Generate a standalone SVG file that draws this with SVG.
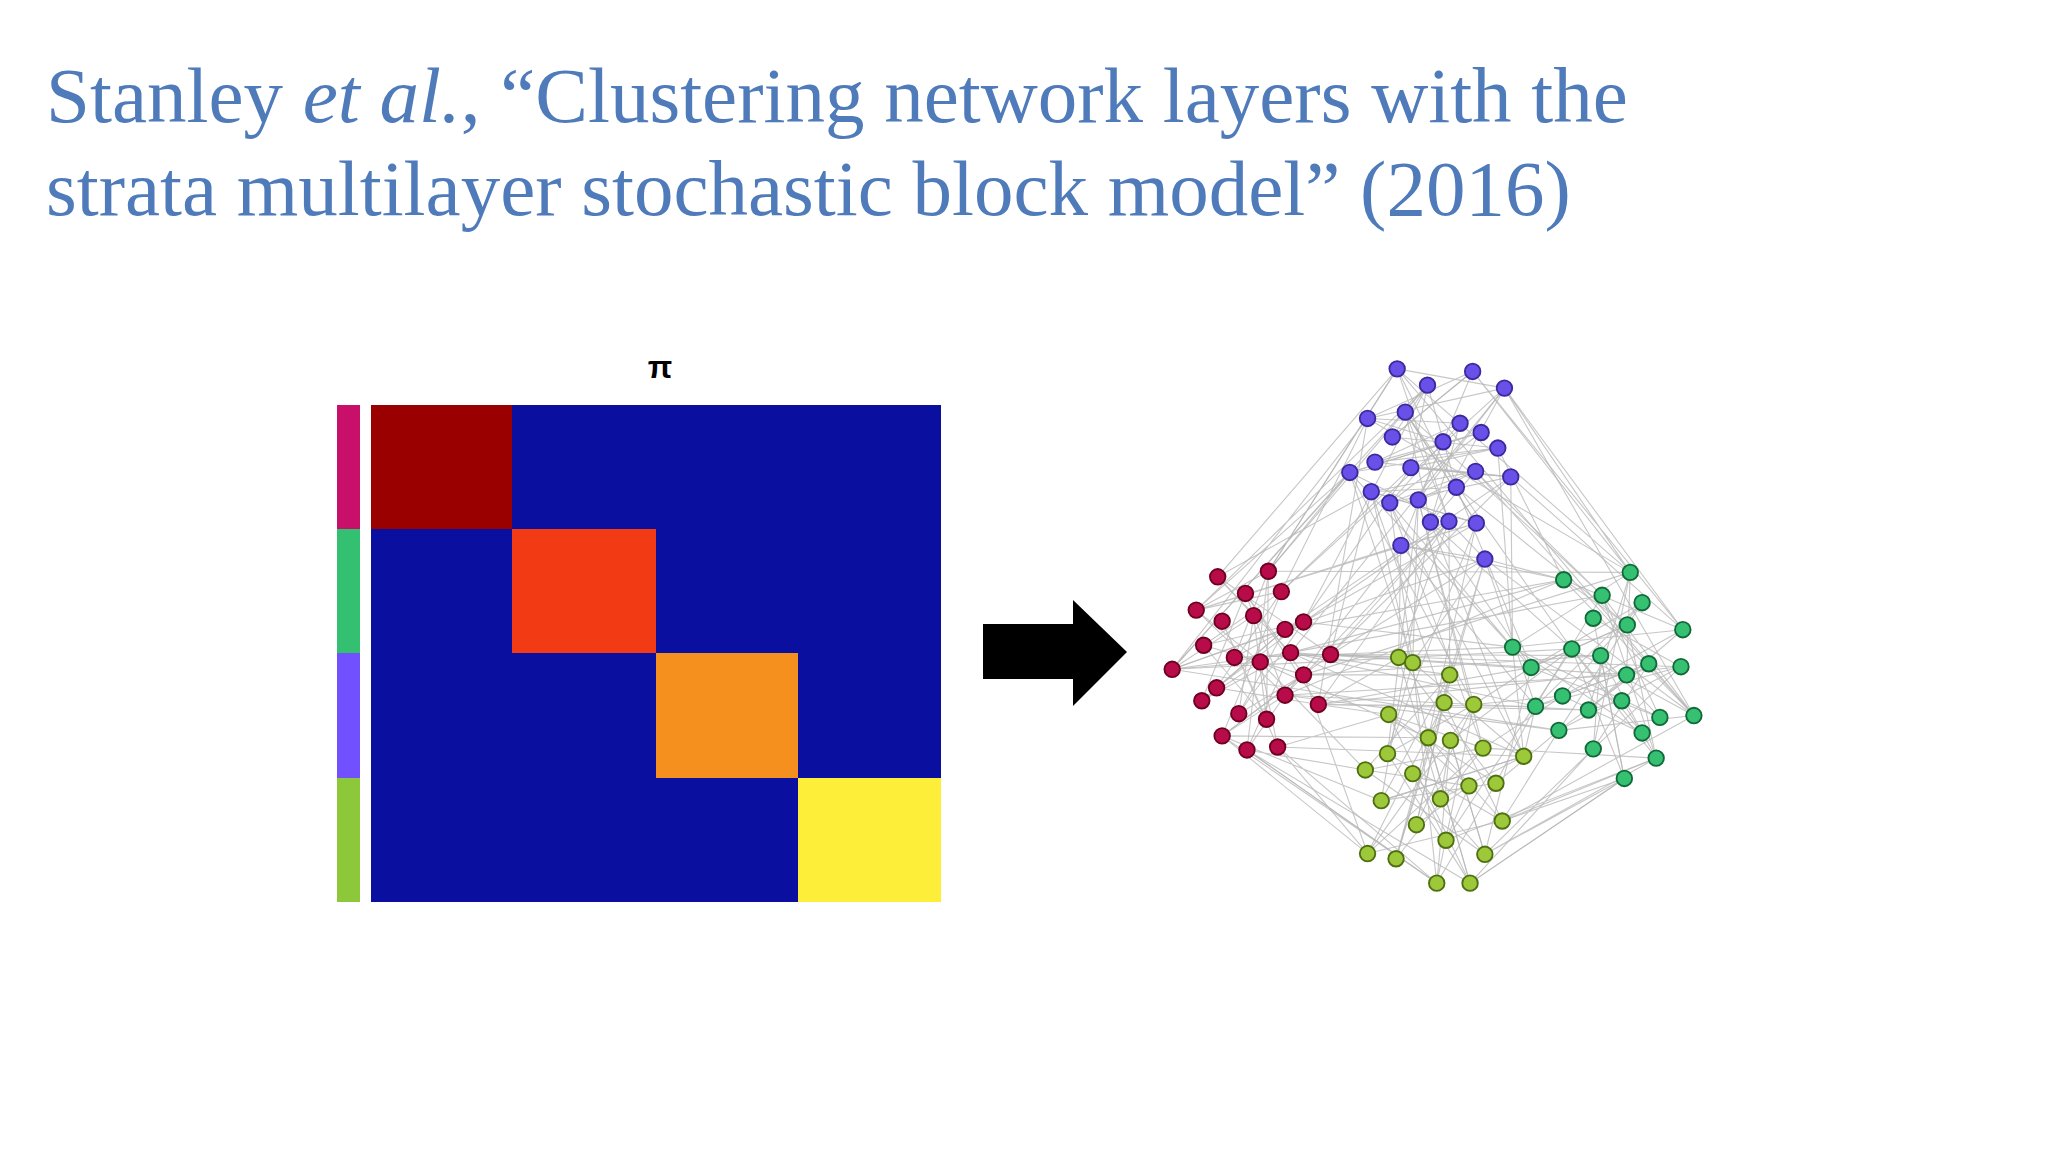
<svg xmlns="http://www.w3.org/2000/svg" width="2048" height="1152" viewBox="0 0 2048 1152">
<style>
.t{font-family:"Liberation Serif","Times New Roman",serif;font-size:79px;fill:#4f7bbb}
.e{fill:none;stroke:#b4b4b4;stroke-width:3;stroke-opacity:0.75;stroke-linejoin:round}
.p circle{fill:#6a50e8;stroke:#3a2aa0;stroke-width:5}
.r circle{fill:#b80c4a;stroke:#700020;stroke-width:5}
.y circle{fill:#9cc83a;stroke:#4e7010;stroke-width:5}
.g circle{fill:#36c072;stroke:#106a38;stroke-width:5}
</style>
<rect width="2048" height="1152" fill="#ffffff"/>
<g id="title">
<text class="t" x="46" y="122">Stanley <tspan font-style="italic">et al.</tspan>, “Clustering network layers with the</text>
<text class="t" x="46" y="215">strata multilayer stochastic block model” (2016)</text>
</g>
<g id="matrix">
<text x="660" y="378" font-family="Liberation Sans,Arial,sans-serif" font-weight="bold" font-size="32" text-anchor="middle" fill="#000">π</text>
<rect x="337" y="405" width="23" height="124" fill="#c8106a"/>
<rect x="337" y="529" width="23" height="124" fill="#33c070"/>
<rect x="337" y="653" width="23" height="125" fill="#7050ff"/>
<rect x="337" y="778" width="23" height="124" fill="#8cc83a"/>
<rect x="371" y="405" width="570" height="497" fill="#0a0fa0"/>
<rect x="371" y="405" width="141" height="124" fill="#9a0000"/>
<rect x="512" y="529" width="144" height="124" fill="#f23a14"/>
<rect x="656" y="653" width="142" height="125" fill="#f5901e"/>
<rect x="798" y="778" width="143" height="124" fill="#fdee3a"/>
</g>
<g id="arrow">
<polygon points="983,624 1073,624 1073,600 1127,652 1073,706 1073,679 983,679" fill="#000"/>
</g>
<g id="network" transform="translate(1150,340) scale(0.37)">
<g id="connectors">
<polyline class="e" points="668,78 958,130 588,212 872,85 655,262 940,292 540,358 895,250 608,330 975,370 705,345 750,122 828,398 598,410 882,495 690,195 758,492 838,225 648,440 880,355 725,432 792,275 678,555 905,592 808,490 668,78"/>
<polyline class="e" points="750,122 655,262 872,85 792,275 588,212 838,225 608,330 940,292 705,345 975,370 648,440 895,250 540,358 808,490 690,195 882,495 598,410 880,355 758,492 958,130 725,432 828,398 668,78"/>
<polyline class="e" points="320,625 125,730 355,680 145,825 415,762 60,890 380,845 183,640 488,850 228,858 365,782 180,940 455,985 258,685 140,975 298,870 345,1100 195,760 315,1025 280,745 240,1010 415,905 195,1070 365,960 262,1108 320,625"/>
<polyline class="e" points="183,640 280,745 60,890 298,870 125,730 365,960 258,685 415,905 145,825 315,1025 320,625 228,858 488,850 195,1070 355,680 180,940 415,762 240,1010 365,782 140,975 380,845 262,1108"/>
<polyline class="e" points="672,858 935,1198 645,1012 900,1103 582,1162 810,905 625,1245 1010,1125 710,872 775,1468 875,985 588,1388 952,1300 642,1118 865,1468 752,1075 665,1402 795,980 720,1310 862,1205 800,1352 710,1172 905,1390 812,1082 785,1240 672,858"/>
<polyline class="e" points="710,872 642,1118 875,985 720,1310 810,905 665,1402 900,1103 588,1388 795,980 952,1300 752,1075 865,1468 645,1012 862,1205 582,1162 905,1390 812,1082 775,1468 935,1198 625,1245 1010,1125 785,1240"/>
<polyline class="e" points="1298,628 980,830 1440,783 1118,648 1470,1015 1222,690 1042,990 1330,710 1105,1055 1435,883 1198,752 1282,1185 1140,835 1368,1130 1290,770 1030,885 1378,1020 1218,853 1198,1105 1348,875 1115,962 1330,1062 1275,975 1185,1000 1288,905 1298,628"/>
<polyline class="e" points="1118,648 1290,770 1030,885 1330,710 1115,962 1440,783 1185,1000 1298,628 1198,1105 1435,883 1042,990 1348,875 1105,1055 1470,1015 1140,835 1330,1062 980,830 1378,1020 1222,690 1368,1130 1218,853 1282,1185"/>
<polyline class="e" points="540,358 320,625 668,78 183,640 598,410 488,850 905,592 60,890 750,122 415,762 882,495 125,730 678,555 365,960 808,490 455,985 588,212 355,680 958,130 380,845"/>
<polyline class="e" points="958,130 1298,628 872,85 1440,783 975,370 980,830 940,292 1118,648 905,592 1470,1015 880,355 1222,690 690,195 1140,835 758,492 1030,885 828,398 1290,770"/>
<polyline class="e" points="488,850 672,858 455,985 645,1012 345,1100 588,1388 415,905 810,905 380,845 1010,1125 345,1100 775,1468 262,1108 582,1162 298,870 752,1075 195,1070 625,1245"/>
<polyline class="e" points="980,830 1010,1125 1042,990 935,1198 1105,1055 952,1300 1282,1185 865,1468 1198,1105 905,1390 1030,885 875,985 1115,962 900,1103 1368,1130 800,1352 1140,835 812,1082"/>
<polyline class="e" points="678,555 672,858 808,490 810,905 905,592 795,980 598,410 752,1075 882,495 642,1118 725,432 875,985 540,358 710,872 648,440 1010,1125 758,492 625,1245"/>
<polyline class="e" points="415,762 980,830 488,850 1030,885 455,985 1042,990 380,845 1118,648 365,960 1105,1055 60,890 1140,835"/>
<polyline class="e" points="668,78 320,625 750,122 125,730 540,358 60,890 588,212 1298,628 668,78 1470,1015 958,130 1440,783"/>
<polyline class="e" points="588,1388 195,1070 775,1468 262,1108 865,1468 1282,1185 905,1390 1368,1130 952,1300 1470,1015"/>
<polyline class="e" points="355,680 705,345 415,762 808,490 488,850 975,370 365,782 1118,648 678,555 1042,990 905,592 710,872 725,432 900,1103 648,440 980,830 540,358 1030,885"/>
<polyline class="e" points="320,625 1298,628 415,905 1218,853 488,850 1435,883 455,985 1185,1000 365,960 1288,905 380,845 1222,690"/>
</g>
<g id="purple" class="p">
<circle cx="668" cy="78" r="21"/><circle cx="750" cy="122" r="21"/><circle cx="872" cy="85" r="21"/><circle cx="958" cy="130" r="21"/><circle cx="588" cy="212" r="21"/><circle cx="690" cy="195" r="21"/><circle cx="838" cy="225" r="21"/><circle cx="895" cy="250" r="21"/><circle cx="655" cy="262" r="21"/><circle cx="792" cy="275" r="21"/><circle cx="940" cy="292" r="21"/><circle cx="608" cy="330" r="21"/><circle cx="705" cy="345" r="21"/><circle cx="880" cy="355" r="21"/><circle cx="975" cy="370" r="21"/><circle cx="540" cy="358" r="21"/><circle cx="598" cy="410" r="21"/><circle cx="648" cy="440" r="21"/><circle cx="725" cy="432" r="21"/><circle cx="828" cy="398" r="21"/><circle cx="758" cy="492" r="21"/><circle cx="808" cy="490" r="21"/><circle cx="882" cy="495" r="21"/><circle cx="678" cy="555" r="21"/><circle cx="905" cy="592" r="21"/>
</g>
<g id="red" class="r">
<circle cx="320" cy="625" r="21"/><circle cx="183" cy="640" r="21"/><circle cx="258" cy="685" r="21"/><circle cx="355" cy="680" r="21"/><circle cx="125" cy="730" r="21"/><circle cx="195" cy="760" r="21"/><circle cx="280" cy="745" r="21"/><circle cx="365" cy="782" r="21"/><circle cx="415" cy="762" r="21"/><circle cx="145" cy="825" r="21"/><circle cx="228" cy="858" r="21"/><circle cx="380" cy="845" r="21"/><circle cx="488" cy="850" r="21"/><circle cx="60" cy="890" r="21"/><circle cx="298" cy="870" r="21"/><circle cx="415" cy="905" r="21"/><circle cx="180" cy="940" r="21"/><circle cx="140" cy="975" r="21"/><circle cx="365" cy="960" r="21"/><circle cx="455" cy="985" r="21"/><circle cx="240" cy="1010" r="21"/><circle cx="315" cy="1025" r="21"/><circle cx="195" cy="1070" r="21"/><circle cx="262" cy="1108" r="21"/><circle cx="345" cy="1100" r="21"/>
</g>
<g id="yellowgreen" class="y">
<circle cx="672" cy="858" r="21"/><circle cx="710" cy="872" r="21"/><circle cx="810" cy="905" r="21"/><circle cx="795" cy="980" r="21"/><circle cx="875" cy="985" r="21"/><circle cx="645" cy="1012" r="21"/><circle cx="752" cy="1075" r="21"/><circle cx="812" cy="1082" r="21"/><circle cx="900" cy="1103" r="21"/><circle cx="1010" cy="1125" r="21"/><circle cx="642" cy="1118" r="21"/><circle cx="582" cy="1162" r="21"/><circle cx="710" cy="1172" r="21"/><circle cx="862" cy="1205" r="21"/><circle cx="935" cy="1198" r="21"/><circle cx="625" cy="1245" r="21"/><circle cx="785" cy="1240" r="21"/><circle cx="720" cy="1310" r="21"/><circle cx="952" cy="1300" r="21"/><circle cx="800" cy="1352" r="21"/><circle cx="588" cy="1388" r="21"/><circle cx="665" cy="1402" r="21"/><circle cx="905" cy="1390" r="21"/><circle cx="775" cy="1468" r="21"/><circle cx="865" cy="1468" r="21"/>
</g>
<g id="green" class="g">
<circle cx="1298" cy="628" r="21"/><circle cx="1118" cy="648" r="21"/><circle cx="1222" cy="690" r="21"/><circle cx="1330" cy="710" r="21"/><circle cx="1198" cy="752" r="21"/><circle cx="1290" cy="770" r="21"/><circle cx="1440" cy="783" r="21"/><circle cx="1140" cy="835" r="21"/><circle cx="1218" cy="853" r="21"/><circle cx="980" cy="830" r="21"/><circle cx="1030" cy="885" r="21"/><circle cx="1348" cy="875" r="21"/><circle cx="1288" cy="905" r="21"/><circle cx="1435" cy="883" r="21"/><circle cx="1115" cy="962" r="21"/><circle cx="1275" cy="975" r="21"/><circle cx="1042" cy="990" r="21"/><circle cx="1185" cy="1000" r="21"/><circle cx="1378" cy="1020" r="21"/><circle cx="1470" cy="1015" r="21"/><circle cx="1105" cy="1055" r="21"/><circle cx="1330" cy="1062" r="21"/><circle cx="1198" cy="1105" r="21"/><circle cx="1368" cy="1130" r="21"/><circle cx="1282" cy="1185" r="21"/>
</g>
</g>
</svg>
